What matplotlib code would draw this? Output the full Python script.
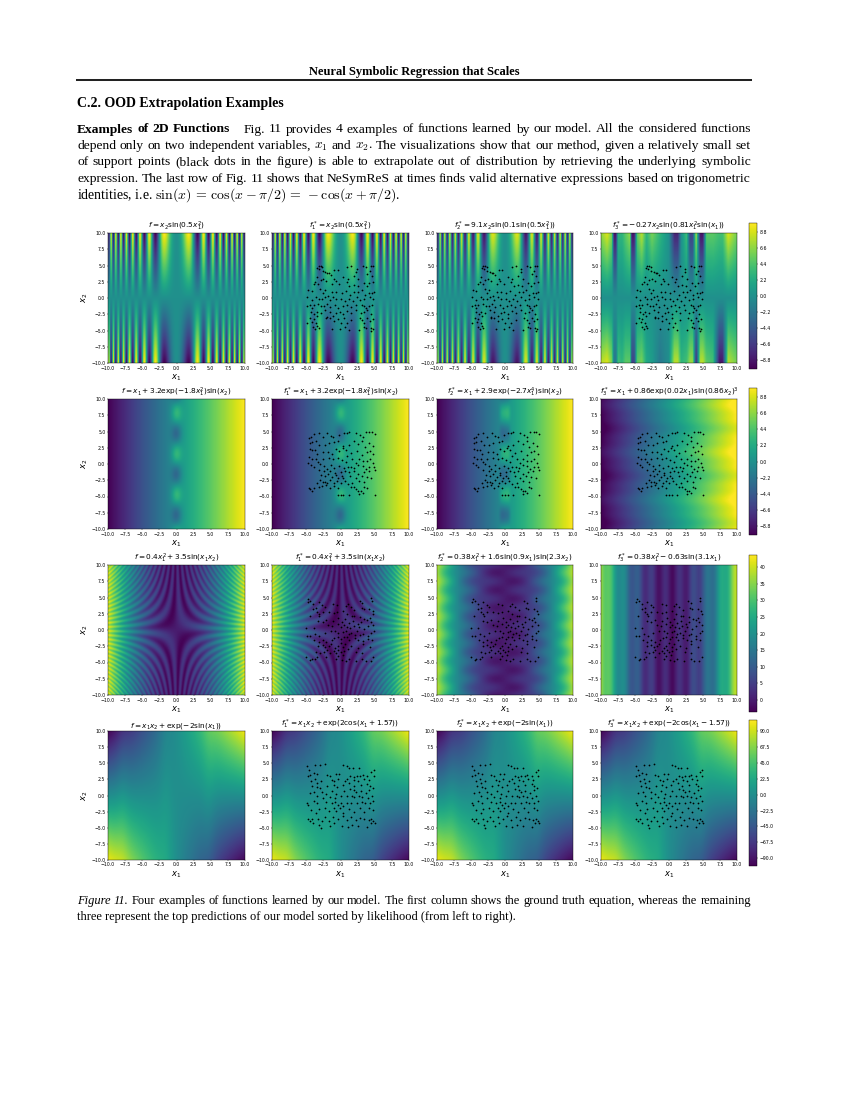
import numpy as np
import matplotlib
matplotlib.use("Agg")
import matplotlib.pyplot as plt

plt.rcParams["axes.linewidth"] = 0.3

W, H = 850, 1100
SERIF = "Liberation Serif"

# ---- panel text ----
titles = [
    [r"$f = x_2\sin(0.5x_1^2)$", r"$f_1^* = x_2\sin(0.5x_1^2)$",
     r"$f_2^* = 9.1x_2\sin(0.1\sin(0.5x_1^2))$", r"$f_3^* = -0.27x_2\sin(0.81x_1^2\sin(x_1))$"],
    [r"$f = x_1 + 3.2\exp(-1.8x_1^2)\sin(x_2)$", r"$f_1^* = x_1 + 3.2\exp(-1.8x_1^2)\sin(x_2)$",
     r"$f_2^* = x_1 + 2.9\exp(-2.7x_1^4)\sin(x_2)$", r"$f_3^* = x_1 + 0.86\exp(0.02x_1)\sin(0.86x_2)^3$"],
    [r"$f = 0.4x_1^2 + 3.5\sin(x_1x_2)$", r"$f_1^* = 0.4x_1^2 + 3.5\sin(x_1x_2)$",
     r"$f_2^* = 0.38x_1^2 + 1.6\sin(0.9x_1)\sin(2.3x_2)$", r"$f_3^* = 0.38x_1^2 - 0.63\sin(3.1x_1)$"],
    [r"$f = x_1x_2 + \exp(-2\sin(x_1))$", r"$f_1^* = x_1x_2 + \exp(2\cos(x_1 + 1.57))$",
     r"$f_2^* = x_1x_2 + \exp(-2\sin(x_1))$", r"$f_3^* = x_1x_2 + \exp(-2\cos(x_1 - 1.57))$"],
]
axis_ticks = [-10.0, -7.5, -5.0, -2.5, 0.0, 2.5, 5.0, 7.5, 10.0]
cbar_ticks = [
    [-8.8, -6.6, -4.4, -2.2, 0.0, 2.2, 4.4, 6.6, 8.8],
    [-8.8, -6.6, -4.4, -2.2, 0.0, 2.2, 4.4, 6.6, 8.8],
    [0, 5, 10, 15, 20, 25, 30, 35, 40],
    [-90.0, -67.5, -45.0, -22.5, 0.0, 22.5, 45.0, 67.5, 90.0],
]
cbar_limits = [(-10, 10), (-10, 10), (-3.6, 43.6), (-101, 105.6)]

# ---- stripes of row 1 / column 4 (edge values at x2 = +10 and -10) ----
stripe_x = [-9.85, -9.1, -8.4, -8.1, -7.8, -7.5, -6.9, -6.4, -5.7, -5.5, -5.1, -4.7, -4.0, -3.3, -2.5, -1.3,
            0.0, 0.8, 1.3, 1.8, 2.6, 3.1, 3.5, 4.0, 4.6, 5.0, 5.5, 6.5, 7.4, 7.9, 8.7, 9.9]
stripe_top = [7, 9, 6, -9, -9, 3, 3, 5, 7, -9, -9, 5, 8, 3, 6, 3,
              0, -8, -8, 0, 4, -6, -6, 8, -9, -9, 5, 5, 4, 4, 9, 6]
stripe_bottom = [8, 9, 6, -2, -2, 4, 3, 5, 5, -6, -6, 5, 6, 2, 1, -2,
                 0, 8, 8, 3, 4, 7, 7, -8, 8, 8, 5, 4, -9, -9, 8, 6]
# amplitude of the sine term in row 3 / column 4 as it appears in the picture
row3_col4_amplitude = 2.5

# ---- support points ----
points_row1 = [
    (-3.2,5.0),(-2.9,4.9),(-3.1,4.5),(-2.7,4.7),(-3.4,4.6),(-2.6,4.1),(-2.2,4.0),(-1.9,3.9),(-1.7,3.8),(-1.4,3.5),
    (-0.9,4.3),(-0.4,4.3),(-0.9,3.0),(1.0,4.8),(1.6,4.9),(2.4,4.5),(3.3,5.0),(3.7,4.7),(4.4,5.0),(4.7,4.9),
    (4.3,4.2),(3.9,3.7),(4.6,3.4),(2.3,4.0),(1.9,3.4),(2.6,3.0),(1.1,2.9),(-3.5,3.3),(-3.7,2.4),(-3.9,2.2),
    (-3.3,2.2),(-2.9,2.8),(-2.5,2.9),(-2.1,2.6),(-1.2,2.2),(-0.7,2.6),(-0.2,2.1),(0.4,3.3),(0.9,2.4),(1.3,1.8),
    (1.9,2.0),(2.5,1.9),(3.4,2.3),(3.8,1.9),(4.2,2.3),(4.8,2.4),(-4.7,1.2),(-4.2,1.1),(-3.0,1.4),(-2.6,0.8),
    (-2.3,1.2),(-1.8,0.3),(-1.2,1.0),(-0.6,0.9),(0.2,0.8),(0.8,1.1),(1.4,0.5),(2.0,0.9),(2.6,1.0),(3.1,1.2),
    (3.6,0.4),(4.1,0.8),(4.6,0.7),(4.9,0.9),(-4.9,0.2),(-4.2,-0.3),(-3.6,0.2),(-3.2,-0.1),(-2.7,-0.2),(-2.2,0.1),
    (-1.6,-0.3),(-1.1,0.1),(-0.6,-0.2),(0.1,-0.1),(0.6,-0.4),(1.2,-0.2),(1.8,-0.5),(2.4,0.1),(2.9,-0.3),(3.5,-0.2),
    (4.3,0.2),(4.8,-0.1),(-4.9,-1.3),(-4.4,-1.1),(-4.2,-1.5),(-3.9,-1.1),(-3.3,-0.9),(-2.8,-1.2),(-2.4,-1.3),(-1.9,-0.9),
    (-1.5,-1.4),(-0.8,-1.1),(-0.3,-1.5),(0.3,-1.2),(0.9,-1.0),(1.5,-1.4),(2.2,-1.1),(3.2,-1.1),(3.5,-1.3),(3.7,-1.6),
    (4.2,-1.2),(4.6,-1.0),(-4.3,-2.2),(-3.8,-2.4),(-3.5,-2.1),(-3.4,-2.7),(-2.9,-2.3),(-2.2,-1.9),(-1.6,-2.2),(-1.1,-2.7),
    (-0.6,-2.3),(-0.1,-2.1),(0.4,-2.5),(1.0,-2.0),(1.6,-2.3),(2.3,-1.9),(3.0,-2.3),(3.5,-2.2),(3.9,-1.9),(4.4,-2.5),
    (-4.9,-3.9),(-4.4,-3.1),(-4.1,-3.7),(-3.9,-3.2),(-3.6,-3.8),(-3.4,-4.3),(-2.1,-3.0),(-2.0,-2.9),(-1.6,-3.0),(-1.0,-3.6),
    (-0.4,-3.3),(0.0,-3.8),(0.5,-3.1),(0.9,-3.9),(1.6,-3.4),(2.8,-3.1),(3.2,-3.4),(3.5,-3.8),(3.9,-3.1),(4.3,-3.5),
    (4.7,-3.3),(-4.0,-4.5),(-3.7,-4.8),(-3.2,-4.6),(-1.3,-4.7),(-0.1,-4.8),(0.6,-4.5),(1.2,-4.9),(2.7,-4.9),(3.7,-4.6),
    (4.4,-4.6),(4.5,-5.0),(4.7,-4.8),(3.4,-4.5),
]
points_row2 = [
    (-4.6,4.0),(-4.3,4.2),(-3.9,4.6),(-3.2,4.8),(-2.6,4.1),(-1.9,4.8),(-1.4,4.3),(-1.1,4.1),(-0.2,4.5),(0.5,4.7),
    (0.9,4.8),(1.2,4.9),(2.2,4.7),(2.8,4.5),(3.3,4.2),(4.2,5.0),(4.6,4.9),(5.0,4.6),(3.7,4.9),(-4.5,3.3),
    (-4.2,3.4),(-3.6,3.6),(-3.1,2.9),(-2.3,3.0),(-1.7,3.2),(-0.9,3.4),(-0.4,3.6),(0.4,2.8),(1.2,2.9),(1.9,3.6),
    (2.6,3.1),(3.2,3.6),(3.6,2.6),(4.1,3.3),(4.7,2.8),(-4.5,2.3),(-4.1,2.1),(-3.7,2.2),(-3.4,1.5),(-2.5,1.9),
    (-1.8,1.8),(-1.2,1.6),(-0.7,2.3),(-0.2,2.0),(0.3,2.5),(0.8,2.2),(1.0,1.3),(1.5,1.7),(2.4,2.0),(3.2,1.4),
    (3.8,1.8),(4.3,2.0),(4.8,1.5),(-4.6,1.1),(-4.1,0.8),(-3.6,0.8),(-3.3,0.3),(-2.6,0.7),(-1.7,0.9),(-1.1,0.7),
    (-0.4,0.9),(0.2,0.6),(0.8,0.3),(1.7,0.7),(2.2,0.2),(2.7,0.8),(3.3,0.5),(3.8,0.4),(4.3,0.7),(4.7,0.2),
    (-4.7,0.1),(-4.3,-0.2),(-3.9,-0.4),(-3.0,0.0),(-2.4,-0.3),(-2.0,-0.8),(-1.4,-0.2),(-0.9,-0.6),(-0.2,-0.3),(0.5,-0.6),
    (1.1,-0.4),(1.6,-0.5),(2.0,-0.6),(2.6,-0.2),(3.3,-0.3),(3.7,-0.7),(4.2,-0.4),(4.9,-0.5),(5.0,-0.9),(-3.2,-0.9),
    (-2.4,-1.1),(-1.5,-1.1),(-0.8,-1.4),(0.1,-1.2),(0.7,-1.0),(1.3,-1.3),(1.9,-1.1),(2.6,-1.5),(3.4,-1.2),(4.1,-1.0),
    (-2.8,-1.7),(-2.2,-1.9),(-1.8,-1.6),(-1.2,-2.0),(-0.7,-1.7),(-0.3,-2.1),(0.2,-1.8),(0.4,-2.2),(1.4,-1.9),(2.2,-2.1),
    (3.1,-1.9),(3.8,-2.0),(4.5,-2.2),(-3.4,-2.9),(-3.0,-2.5),(-2.6,-2.7),(-2.2,-2.7),(-1.9,-2.9),(-1.5,-2.5),(-0.9,-2.9),
    (-0.5,-2.6),(0.0,-2.9),(0.6,-2.6),(1.1,-3.1),(1.7,-2.9),(2.7,-2.6),(3.5,-2.8),(-4.6,-3.7),(-4.4,-3.9),(-4.1,-4.1),
    (-3.9,-3.7),(-3.2,-3.5),(-2.7,-3.4),(-2.1,-3.3),(-1.6,-3.7),(-1.0,-3.4),(-0.4,-3.7),(1.5,-3.6),(1.9,-3.5),(2.3,-3.9),
    (2.6,-4.2),(3.0,-4.1),(3.5,-3.6),(3.8,-3.7),(-0.4,-4.7),(0.0,-4.7),(0.4,-4.7),(1.2,-4.7),(2.7,-4.6),(3.3,-4.4),(5.0,-4.8),
]
points_row3 = [
    (-4.7,4.8),(-4.8,4.3),(-4.4,4.5),(-4.0,4.0),(-3.2,4.3),(-2.7,3.8),(-2.3,3.6),(-1.1,4.0),(-0.5,3.9),(1.1,4.0),
    (0.8,3.7),(1.5,3.6),(2.8,4.4),(3.2,4.2),(4.5,4.9),(4.6,4.5),(4.2,3.3),(3.4,3.3),(3.1,3.4),(2.0,3.1),
    (-4.0,3.2),(-3.6,3.4),(-3.5,2.8),(-3.2,2.5),(-3.1,2.1),(-2.6,2.8),(-1.7,2.8),(-1.0,2.6),(-0.5,2.7),(0.4,2.9),
    (1.0,2.4),(1.7,2.2),(2.0,2.2),(2.9,2.0),(3.5,1.7),(3.9,1.6),(4.3,1.9),(4.8,2.5),(4.7,3.0),(-4.5,2.1),
    (-3.3,1.4),(-2.6,1.2),(-2.1,1.6),(-1.1,1.4),(-0.3,1.8),(0.2,1.3),(0.7,1.7),(1.2,1.1),(1.8,1.4),(2.5,1.0),
    (3.0,1.3),(4.4,1.2),(4.8,0.8),(-5.0,0.3),(-3.9,0.3),(-1.8,0.8),(-1.2,0.6),(-0.4,0.9),(0.1,0.4),(0.5,0.8),
    (0.9,0.5),(1.4,0.3),(1.9,0.6),(2.7,0.5),(3.4,0.2),(4.0,0.6),(4.9,-0.2),(-4.9,-0.9),(-4.4,-0.9),(-3.7,-0.6),
    (-3.1,-0.9),(-2.3,-0.4),(-1.4,-0.2),(-0.8,-0.1),(-0.3,-0.4),(0.4,-0.3),(0.8,-0.1),(1.2,-0.6),(1.6,-0.4),(2.1,-0.7),
    (2.4,-0.2),(2.9,-0.8),(3.3,-0.6),(4.0,-0.9),(4.5,-0.5),(-3.8,-1.6),(-3.2,-1.9),(-2.6,-1.5),(-2.1,-1.9),(-1.3,-1.5),
    (-0.9,-1.2),(-0.4,-1.0),(0.1,-1.4),(0.5,-1.1),(1.0,-1.0),(1.3,-1.5),(2.1,-1.3),(2.6,-1.6),(3.3,-1.7),(4.0,-1.4),
    (4.6,-1.5),(-3.3,-2.4),(-2.6,-2.3),(-2.2,-2.6),(-1.7,-2.4),(-1.4,-2.2),(-0.8,-2.8),(-0.4,-2.4),(0.0,-2.0),(0.4,-2.6),
    (0.7,-2.2),(1.1,-2.9),(1.6,-2.4),(2.5,-2.8),(3.3,-2.2),(4.3,-2.6),(-3.6,-3.4),(-3.0,-3.5),(-2.4,-3.4),(-2.0,-3.0),
    (-1.5,-3.5),(-1.0,-3.2),(-0.7,-3.6),(-0.3,-3.1),(0.0,-3.4),(0.3,-3.9),(0.5,-3.3),(2.3,-3.4),(3.2,-3.6),(-5.0,-4.2),
    (-4.4,-4.6),(-4.2,-4.4),(-3.7,-4.4),(-3.4,-4.1),(-2.1,-4.2),(-0.7,-4.4),(-0.4,-4.0),(0.2,-4.6),(0.8,-4.7),(1.2,-4.4),
    (2.2,-4.8),(3.2,-4.5),(3.7,-4.7),(4.4,-4.7),(4.8,-4.2),
]
points_row4 = [
    (-4.9,4.5),(-3.7,4.8),(-3.0,4.7),(-2.2,4.9),(0.4,4.8),(0.9,4.5),(1.3,4.3),(1.8,4.2),(2.7,4.3),(-4.6,3.9),
    (-4.4,3.2),(-4.8,3.1),(-3.9,3.5),(-3.4,3.4),(-2.0,3.2),(-1.6,3.0),(-0.7,3.3),(-0.2,3.4),(1.4,3.1),(1.9,2.8),
    (2.4,3.0),(2.9,3.1),(3.3,3.2),(3.9,3.0),(4.5,3.6),(4.9,4.0),(4.9,3.1),(-4.3,2.2),(-3.7,2.5),(-3.5,2.0),
    (-2.9,2.3),(-1.3,2.4),(-0.9,2.2),(-0.3,2.5),(0.6,2.2),(1.0,2.6),(2.0,2.4),(2.6,2.2),(3.4,2.5),(4.1,2.4),
    (-4.1,1.4),(-3.4,1.3),(-3.0,1.1),(-1.9,1.4),(-1.0,1.6),(-0.5,1.3),(0.3,1.7),(1.3,1.9),(1.9,1.5),(3.0,1.6),
    (3.9,1.8),(4.3,1.5),(4.7,1.1),(-4.5,0.4),(-3.8,0.5),(-2.7,0.6),(-2.1,0.3),(-1.2,0.7),(-0.6,0.2),(0.5,0.7),
    (1.4,1.0),(2.0,0.9),(2.3,0.6),(3.0,0.7),(3.7,0.4),(4.2,0.8),(-3.5,-0.1),(-2.6,-0.4),(-1.6,-0.2),(-0.8,-0.4),
    (0.1,0.0),(1.0,-0.1),(1.7,0.0),(2.0,-0.3),(2.7,-0.1),(3.2,-0.2),(4.0,-0.4),(4.6,-0.1),(-4.9,-1.2),(-4.7,-1.5),
    (-3.9,-0.9),(-3.4,-1.1),(-2.1,-1.0),(-1.3,-1.1),(-0.8,-1.0),(-0.4,-1.4),(0.0,-1.2),(0.4,-1.6),(0.9,-1.2),(1.5,-1.1),
    (2.4,-1.2),(3.1,-1.0),(3.6,-1.2),(4.3,-1.1),(4.8,-0.9),(-4.3,-2.2),(-3.6,-2.7),(-3.2,-2.1),(-2.3,-2.0),(-1.7,-2.4),
    (-1.0,-1.9),(-0.7,-2.4),(-0.1,-2.0),(0.4,-2.7),(1.2,-2.1),(1.9,-2.5),(2.8,-2.0),(3.4,-2.6),(4.2,-2.0),(4.7,-2.3),
    (-4.8,-3.6),(-4.5,-3.9),(-4.2,-3.7),(-4.0,-4.2),(-3.3,-3.6),(-2.7,-4.0),(-2.2,-3.4),(-1.7,-3.9),(-1.1,-3.3),(-0.9,-4.2),
    (-0.3,-3.6),(0.3,-3.2),(0.9,-3.8),(1.6,-3.3),(2.2,-3.8),(2.9,-3.5),(3.5,-3.7),(4.1,-3.8),(4.5,-3.6),(4.8,-3.9),
    (-3.1,-4.6),(-2.9,-5.0),(-1.5,-4.8),(0.2,-4.7),(1.1,-4.9),(1.7,-4.6),(2.6,-4.8),(3.9,-4.9),(4.4,-4.3),(5.0,-4.2),
]
points_by_row = [points_row1, points_row2, points_row3, points_row4]

# ---- page text ----
header = "Neural Symbolic Regression that Scales"
section = "C.2. OOD Extrapolation Examples"
body_lines = [
    [("Examples of 2D Functions", "bold", "normal"), ("\u2003", "normal", "normal"),
     ("Fig. 11 provides 4 examples of functions learned by our model. All the considered functions", "normal", "normal")],
    [(r"depend only on two independent variables, $x_1$ and $x_2$. The visualizations show that our method, given a relatively small set", "normal", "normal")],
    [("of support points (black dots in the figure) is able to extrapolate out of distribution by retrieving the underlying symbolic", "normal", "normal")],
    [("expression. The last row of Fig. 11 shows that NeSymReS at times finds valid alternative expressions based on trigonometric", "normal", "normal")],
]
body_last = r"identities, i.e. $\sin(x)\,=\,\cos(x - \pi/2)\,=\,-\cos(x + \pi/2)$."
caption_first = [("Figure 11.", "normal", "italic"),
                 ("Four examples of functions learned by our model. The first column shows the ground truth equation, whereas the remaining", "normal", "normal")]
caption_last = "three represent the top predictions of our model sorted by likelihood (from left to right)."

# ---- layout in page pixels ----
col_x = [(108, 245), (272, 409), (437, 573), (601, 737)]
row_y = [(233, 363), (399, 529), (565, 695), (731, 860)]
cbar_x = (749, 757)
cbar_y = [(223, 369), (388, 535), (555, 712), (720, 866)]
LEFT, RIGHT = 77, 751
BODY, CAPTION = 9.7, 9

grid = np.linspace(-10, 10, 1200)
X1, X2 = np.meshgrid(grid, grid)


def field(r, c):
    if r == 0:
        if c < 2:
            return X2 * np.sin(0.5 * X1**2)
        if c == 2:
            return 9.1 * X2 * np.sin(0.1 * np.sin(0.5 * X1**2))
        top = np.interp(X1, stripe_x, stripe_top)
        bottom = np.interp(X1, stripe_x, stripe_bottom)
        return np.where(X2 >= 0, top, bottom) * np.abs(X2) / 10
    if r == 1:
        if c < 2:
            return X1 + 3.2 * np.exp(-1.8 * X1**2) * np.sin(X2)
        if c == 2:
            return X1 + 2.9 * np.exp(-2.7 * X1**4) * np.sin(X2)
        return X1 + 0.86 * np.exp(0.02 * X1) * np.sin(0.86 * X2)**3
    if r == 2:
        if c < 2:
            return 0.4 * X1**2 + 3.5 * np.sin(X1 * X2)
        if c == 2:
            return 0.38 * X1**2 + 1.6 * np.sin(0.9 * X1) * np.sin(2.3 * X2)
        return 0.38 * X1**2 - row3_col4_amplitude * np.sin(3.1 * X1)
    if c == 1:
        return X1 * X2 + np.exp(2 * np.cos(X1 + 1.57))
    if c == 3:
        return X1 * X2 + np.exp(-2 * np.cos(X1 - 1.57))
    return X1 * X2 + np.exp(-2 * np.sin(X1))


def box(x0, x1, y0, y1):
    return [x0 / W, 1 - y1 / H, (x1 - x0) / W, (y1 - y0) / H]


fig = plt.figure(figsize=(W / 100, H / 100), dpi=100)

for r in range(4):
    vmin, vmax = cbar_limits[r]
    pts = np.array(points_by_row[r])
    im = None
    for c in range(4):
        ax = fig.add_axes(box(*col_x[c], *row_y[r]))
        im = ax.imshow(field(r, c), extent=(-10, 10, -10, 10), origin="lower", cmap="viridis",
                       vmin=vmin, vmax=vmax, aspect="auto", interpolation="hanning",
                       interpolation_stage="data")
        if c > 0:
            ax.scatter(pts[:, 0], pts[:, 1], s=1.6, c="black", linewidths=0, zorder=3)
        ax.set_xticks(axis_ticks)
        ax.set_yticks(axis_ticks)
        ax.tick_params(labelsize=3.3, length=1, width=0.3, pad=0.8)
        ax.set_title(titles[r][c], fontsize=5.3, pad=2.5)
        ax.set_xlabel(r"$x_1$", fontsize=6, labelpad=1.2)
        if c == 0:
            ax.set_ylabel(r"$x_2$", fontsize=6, labelpad=1.2)
        for s in ax.spines.values():
            s.set_linewidth(0.3)
    cax = fig.add_axes(box(cbar_x[0], cbar_x[1], *cbar_y[r]))
    cb = fig.colorbar(im, cax=cax)
    cb.set_ticks(cbar_ticks[r])
    cb.ax.tick_params(labelsize=3.3, length=1, width=0.3, pad=0.8)
    cb.outline.set_linewidth(0.3)

renderer = fig.canvas.get_renderer()


def put(x, y, s, weight="normal", style="normal", size=BODY, **kw):
    return fig.text(x / W, 1 - y / H, s, family=SERIF, weight=weight, style=style, fontsize=size,
                    math_fontfamily="cm", va="baseline", **kw)


def width(s, weight, style, size):
    t = put(0, 0, s, weight, style, size)
    w = t.get_window_extent(renderer).width
    t.remove()
    return w


def justified(segments, y, size=BODY):
    words = []
    for s, weight, style in segments:
        if s == "\u2003":
            words.append((None, weight, style))
            continue
        words += [(w, weight, style) for w in s.split(" ")]
    widths = [0 if w is None else width(w, a, b, size) for w, a, b in words]
    em_extra = 5.0
    n_em = sum(1 for w, _, _ in words if w is None)
    gap = ((RIGHT - LEFT) - sum(widths) - n_em * em_extra) / (len(words) - 1)
    x = LEFT
    for (w, a, b), wd in zip(words, widths):
        if w is None:
            x += em_extra + gap
            continue
        put(x, y, w, a, b, size)
        x += wd + gap


put((LEFT + RIGHT) / 2, 75, header, weight="bold", ha="center", size=9)
fig.add_artist(plt.Line2D([LEFT / W, RIGHT / W], [1 - 79.5 / H] * 2, color="#222222", lw=1.45))
put(LEFT, 106.5, section, weight="bold", size=10)

for y, seg in zip([132.5, 149, 165.5, 182], body_lines):
    justified(seg, y)
put(LEFT, 199, body_last, size=10)
justified(caption_first, 904, CAPTION)
put(LEFT, 920, caption_last, size=CAPTION)

fig.savefig("out.png", dpi=100)
